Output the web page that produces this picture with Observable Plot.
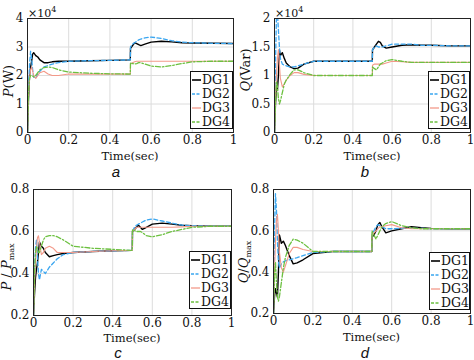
<!DOCTYPE html>
<html><head><meta charset="utf-8">
<script src="https://cdn.jsdelivr.net/npm/d3@7"></script>
<script src="https://cdn.jsdelivr.net/npm/@observablehq/plot@0.6"></script>
<style>
body{margin:0;background:#fff;}
#wrap{position:relative;width:474px;height:360px;overflow:hidden;font-family:"DejaVu Serif","Liberation Serif",serif;color:#111;}
.panel{position:absolute;}
.ylab{position:absolute;transform:translate(-50%,-50%) rotate(-90deg);white-space:nowrap;font-size:13px;line-height:13px;}
.ylab i{font-style:italic;}
.ylab sub{font-size:8px;vertical-align:-3px;}
.exp{position:absolute;font-size:11px;white-space:nowrap;line-height:12px;}
.exp sup{font-size:8px;vertical-align:5px;}
.xlab{position:absolute;font-size:11.5px;line-height:12px;transform:translateX(-50%);white-space:nowrap;}
.cap{position:absolute;font-family:"Liberation Sans","DejaVu Sans",Arial,sans-serif;font-style:italic;font-size:15px;line-height:12px;transform:translateX(-50%);}
.legend{position:absolute;border:1px solid #111;background:#fff;font-size:12.5px;box-sizing:border-box;padding-top:1px;}
.legend .row{height:14px;line-height:14px;display:flex;align-items:center;white-space:nowrap;}
.legend svg{margin-left:1px;margin-right:1px;}
</style></head>
<body><div id="wrap"></div>
<script>
// shared time grid (sec)
const time = [0,0.005,0.01,0.015,0.02,0.025,0.03,0.04,0.05,0.06,0.08,0.1,0.12,0.15,0.2,0.3,0.4,0.499,0.5,0.51,0.52,0.53,0.54,0.55,0.57,0.6,0.65,0.7,0.75,0.8,0.9,1];
const seriesNames = ["DG1","DG2","DG3","DG4"];
const seriesColors = ["#000000","#3aa6f0","#f39a8a","#6cc040"];
const seriesDash = ["none","4,2.5","none","5,2,1.5,2"];
const seriesWidth = [1.4,1.3,1.1,1.3];

// panel a: P (x10^4 W)
const aDG1 = [0,1.2,2.0,2.3,2.5,2.75,2.8,2.7,2.65,2.55,2.45,2.45,2.48,2.5,2.5,2.52,2.53,2.55,2.95,3.05,3.15,3.12,3.08,3.05,3.1,3.17,3.2,3.18,3.15,3.14,3.13,3.12];
const aDG2 = [0,1.5,2.4,2.85,2.6,2.2,1.95,1.9,2.05,2.15,2.3,2.35,2.4,2.45,2.5,2.52,2.53,2.55,3.0,3.1,3.15,3.2,3.25,3.28,3.32,3.35,3.3,3.22,3.17,3.15,3.13,3.12];
const aDG3 = [0,1.3,1.9,2.2,2.3,2.15,2.0,1.9,2.0,2.1,2.15,2.05,2.0,2.0,2.05,2.05,2.05,2.05,2.4,2.45,2.48,2.5,2.5,2.5,2.5,2.5,2.5,2.5,2.5,2.5,2.5,2.5];
const aDG4 = [0,1.4,1.9,2.0,2.0,1.98,1.95,2.0,2.1,2.2,2.28,2.3,2.28,2.2,2.12,2.08,2.06,2.05,2.45,2.42,2.4,2.42,2.45,2.45,2.4,2.33,2.3,2.35,2.42,2.48,2.5,2.5];
// panel b: Q (x10^4 Var)
const bDG1 = [0,0.5,0.8,0.75,1.0,1.45,1.35,1.4,1.3,1.22,1.15,1.12,1.13,1.2,1.25,1.25,1.25,1.25,1.45,1.5,1.55,1.6,1.58,1.52,1.48,1.5,1.53,1.54,1.53,1.53,1.52,1.52];
const bDG2 = [0,1.2,2.05,2.1,1.8,1.5,1.3,1.2,1.18,1.17,1.15,1.15,1.17,1.2,1.25,1.25,1.25,1.25,1.45,1.5,1.52,1.5,1.5,1.5,1.52,1.55,1.55,1.55,1.53,1.53,1.52,1.52];
const bDG3 = [0,0.6,1.0,1.3,1.45,1.2,0.95,0.8,0.85,0.92,1.0,1.05,1.05,1.02,1.0,1.0,1.0,1.0,1.18,1.2,1.2,1.2,1.2,1.2,1.22,1.25,1.24,1.23,1.23,1.23,1.23,1.23];
const bDG4 = [0,0.5,0.9,0.8,0.6,0.5,0.55,0.7,0.85,0.92,1.02,1.1,1.1,1.05,1.0,1.0,1.0,1.0,1.15,1.12,1.1,1.15,1.2,1.22,1.26,1.28,1.25,1.23,1.23,1.23,1.23,1.23];
// panel c: P/Pmax
const cDG1 = [0.2,0.3,0.38,0.42,0.45,0.5,0.55,0.53,0.52,0.5,0.48,0.485,0.49,0.495,0.5,0.505,0.508,0.51,0.6,0.61,0.62,0.63,0.62,0.61,0.62,0.635,0.64,0.635,0.63,0.628,0.625,0.625];
const cDG2 = [0.2,0.4,0.52,0.56,0.48,0.4,0.37,0.42,0.41,0.4,0.43,0.45,0.47,0.49,0.5,0.505,0.508,0.51,0.6,0.62,0.63,0.635,0.64,0.645,0.655,0.66,0.65,0.64,0.63,0.628,0.625,0.625];
const cDG3 = [0.2,0.35,0.45,0.52,0.57,0.58,0.55,0.49,0.5,0.52,0.53,0.52,0.5,0.5,0.5,0.505,0.508,0.51,0.6,0.61,0.62,0.62,0.62,0.62,0.62,0.62,0.62,0.62,0.622,0.625,0.625,0.625];
const cDG4 = [0.2,0.4,0.5,0.53,0.52,0.5,0.5,0.53,0.56,0.575,0.58,0.58,0.575,0.56,0.53,0.52,0.515,0.51,0.61,0.605,0.6,0.6,0.6,0.595,0.58,0.575,0.585,0.6,0.61,0.62,0.625,0.625];
// panel d: Q/Qmax
const dDG1 = [0.2,0.28,0.32,0.3,0.28,0.4,0.58,0.54,0.55,0.53,0.48,0.44,0.445,0.46,0.49,0.5,0.5,0.5,0.57,0.58,0.6,0.63,0.64,0.62,0.59,0.6,0.61,0.62,0.615,0.612,0.61,0.61];
const dDG2 = [0.2,0.6,0.78,0.7,0.55,0.45,0.42,0.44,0.45,0.455,0.46,0.465,0.47,0.48,0.495,0.5,0.5,0.5,0.58,0.6,0.62,0.63,0.625,0.62,0.61,0.61,0.612,0.612,0.612,0.61,0.61,0.61];
const dDG3 = [0.2,0.4,0.55,0.65,0.68,0.6,0.5,0.42,0.4,0.43,0.49,0.52,0.52,0.51,0.5,0.5,0.5,0.5,0.58,0.59,0.6,0.61,0.62,0.62,0.625,0.63,0.615,0.61,0.61,0.61,0.61,0.61];
const dDG4 = [0.2,0.38,0.45,0.35,0.28,0.26,0.28,0.35,0.42,0.47,0.53,0.56,0.555,0.54,0.5,0.5,0.5,0.5,0.6,0.58,0.56,0.58,0.6,0.62,0.635,0.645,0.625,0.615,0.61,0.61,0.61,0.61];

const xTicks = [0,0.2,0.4,0.6,0.8,1];
const xTickLabels = ["0","0.2","0.4","0.6","0.8","1"];
const aTicks = [0,1,2,3,4], aTickLabels = ["0","1","2","3","4"];
const bTicks = [0,0.5,1,1.5,2], bTickLabels = ["0","0.5","1","1.5","2"];
const cTicks = [0.2,0.4,0.6,0.8], cTickLabels = ["0.2","0.4","0.6","0.8"];
const panelLetters = ["a","b","c","d"];
const xTitle = "Time(sec)";

const serifFont = "'DejaVu Serif','Liberation Serif',serif";
const wrap = document.getElementById("wrap");
function add(cls, html, css){const d=document.createElement("div");d.className=cls;d.innerHTML=html;Object.assign(d.style,css);wrap.appendChild(d);return d;}

function panel(o){
  const rows = [];
  o.series.forEach((vals,k)=>vals.forEach((v,i)=>rows.push({t:time[i],v,s:seriesNames[k],k})));
  const xl = new Map(xTicks.map((t,i)=>[t,xTickLabels[i]]));
  const yl = new Map(o.yTicks.map((t,i)=>[t,o.yTickLabels[i]]));
  const p = Plot.plot({
    width:o.w, height:o.h,
    marginLeft:o.ml, marginRight:o.mr, marginTop:o.mt, marginBottom:o.h-o.bottom,
    style:{fontFamily:serifFont,fontSize:"12px",background:"transparent",color:"#111"},
    x:{domain:[0,1]}, y:{domain:o.yDomain},
    marks:[
      Plot.gridX(xTicks,{stroke:"#dcdcdc",strokeOpacity:1}),
      Plot.gridY(o.yTicks,{stroke:"#dcdcdc",strokeOpacity:1}),
      Plot.axisX(xTicks,{tickSize:0,tickPadding:3,tickFormat:d=>xl.get(d),fontSize:12,fontFamily:serifFont,label:null}),
      Plot.axisY(o.yTicks,{tickSize:0,tickPadding:4,tickFormat:d=>yl.get(d),fontSize:12,fontFamily:serifFont,label:null}),
      ...seriesNames.map((s,k)=>Plot.line(rows.filter(r=>r.k===k),{x:"t",y:"v",stroke:seriesColors[k],strokeWidth:seriesWidth[k],strokeDasharray:seriesDash[k],clip:true})),
      Plot.frame({stroke:"#222",strokeWidth:1})
    ]
  });
  const box = document.createElement("div");
  box.className="panel"; box.style.left=o.left+"px"; box.style.top=o.top+"px";
  box.appendChild(p); wrap.appendChild(box);
  // legend
  const lg = add("legend","",{left:(o.left+o.w-o.mr-o.lgW)+"px",top:(o.top+o.lgTop)+"px",width:o.lgW+"px",height:"58px"});
  seriesNames.forEach((s,k)=>{
    const r=document.createElement("div");r.className="row";
    r.innerHTML=`<svg width="9" height="6"><line x1="0" y1="3" x2="9" y2="3" stroke="${seriesColors[k]}" stroke-width="${seriesWidth[k]+0.2}" stroke-dasharray="${seriesDash[k]==='none'?'':'3,1.5'}"/></svg><span>${s}</span>`;
    lg.appendChild(r);
  });
  // titles
  add("ylab",o.ylab,{left:(o.left+o.ylx)+"px",top:(o.top+o.yly)+"px"});
  add("xlab",xTitle,{left:(o.left+o.ml+(o.w-o.ml-o.mr)/2)+"px",top:(o.top+o.bottom+o.xly)+"px"});
  add("cap",o.cap,{left:(o.left+o.capx)+"px",top:(o.top+o.capy)+"px"});
  if(o.exp) add("exp","×10<sup>4</sup>",{left:(o.left+o.ml+1)+"px",top:(o.top+4)+"px"});
}

panel({left:0,top:0,w:237,h:150,ml:27,mr:4,mt:18,bottom:132,yDomain:[0,4],yTicks:aTicks,yTickLabels:aTickLabels,
  series:[aDG1,aDG2,aDG3,aDG4],lgW:43,lgTop:71,ylab:"<i>P</i>(W)",ylx:8,yly:81,xly:18,cap:panelLetters[0],capx:116,capy:166,exp:true});
panel({left:237,top:0,w:237,h:150,ml:37,mr:4,mt:18,bottom:132,yDomain:[0,2],yTicks:bTicks,yTickLabels:bTickLabels,
  series:[bDG1,bDG2,bDG3,bDG4],lgW:42,lgTop:71,ylab:"<i>Q</i>(Var)",ylx:8,yly:70,xly:18,cap:panelLetters[1],capx:128,capy:166,exp:true});
panel({left:0,top:180,w:237,h:160,ml:33,mr:6,mt:9,bottom:135,yDomain:[0.2,0.8],yTicks:cTicks,yTickLabels:cTickLabels,
  series:[cDG1,cDG2,cDG3,cDG4],lgW:42,lgTop:71,ylab:"<i>P</i> / <i>P</i><sub>max</sub>",ylx:9,yly:87,xly:17,cap:panelLetters[2],capx:118,capy:167,exp:false});
panel({left:237,top:180,w:237,h:160,ml:36,mr:4,mt:9,bottom:133,yDomain:[0.2,0.8],yTicks:cTicks,yTickLabels:cTickLabels,
  series:[dDG1,dDG2,dDG3,dDG4],lgW:41,lgTop:72,ylab:"<i>Q</i>/<i>Q</i><sub>max</sub>",ylx:9,yly:82,xly:18,cap:panelLetters[3],capx:128,capy:167,exp:false});
</script>
</body></html>
